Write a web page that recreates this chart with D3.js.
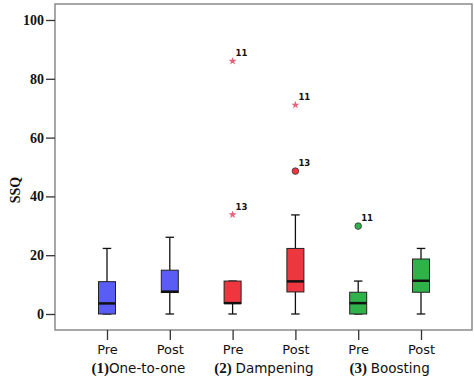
<!DOCTYPE html>
<html><head><meta charset="utf-8">
<script src="https://cdn.jsdelivr.net/npm/d3@7"></script>
<style>body{margin:0;background:#fff}svg{display:block}</style>
</head><body>
<svg id="c" width="474" height="379"></svg>
<script>
const conditions = ["Pre","Post","Pre","Post","Pre","Post"];
const groups = ["(1)One-to-one","(2) Dampening","(3) Boosting"];
const groupOf = [0,0,1,1,2,2];
const whiskerLow  = [0, 0, 0, 0, 0, 0];
const q1          = [0, 7.3, 3.6, 7.5, 0, 7.4];
const median      = [3.6, 7.6, 3.7, 11.1, 3.7, 11.3];
const q3          = [11.0, 14.9, 11.2, 22.3, 7.4, 18.7];
const whiskerHigh = [22.3, 26.1, 11.2, 33.7, 11.2, 22.3];
const outliers = [
  {box:2, value:86, type:"star", label:"11"},
  {box:2, value:33.8, type:"star", label:"13"},
  {box:3, value:71.1, type:"star", label:"11"},
  {box:3, value:48.6, type:"circle", label:"13"},
  {box:4, value:29.9, type:"circle", label:"11"}
];
const yTicks = [0,20,40,60,80,100];
const groupColors = ["#5a5cf6","#ee363e","#2fb24a"];
const starColor = "#e8607a";

const svg = d3.select("#c");
const L=55, R=472, T=4, B=330;
const x = d3.scalePoint().domain(d3.range(6)).range([107,421]);
const xc = i => x(i);
const bw = 17;
const y = d3.scaleLinear().domain([0,100]).range([314,20]);

// frame
svg.append("rect").attr("x",L).attr("y",T).attr("width",R-L).attr("height",B-T)
  .attr("fill","none").attr("stroke","#8a8a8a").attr("stroke-width",1.5);

// y axis
const ya = svg.append("g").attr("transform",`translate(${L},0)`)
  .call(d3.axisLeft(y).tickValues(yTicks).tickSize(9).tickPadding(2));
ya.select(".domain").remove();
ya.selectAll("line").attr("stroke","#333").attr("stroke-width",1.3);
ya.selectAll("text").attr("font-family","Liberation Serif").attr("font-weight","bold")
  .attr("font-size",14).attr("fill","#111");

svg.append("text").attr("transform","translate(20,190) rotate(-90)")
  .attr("text-anchor","middle").attr("font-family","Liberation Serif").attr("font-weight","bold")
  .attr("font-size",14).attr("fill","#111").text("SSQ");

// x axis
const xa = svg.append("g").attr("transform",`translate(0,${B})`)
  .call(d3.axisBottom(x).tickSize(10).tickPadding(5).tickFormat(i=>conditions[i]));
xa.select(".domain").remove();
xa.selectAll("line").attr("stroke","#333").attr("stroke-width",1.3);
xa.selectAll("text").attr("font-family","DejaVu Sans").attr("font-size",13).attr("fill","#111");

// group labels
const gl = svg.append("g");
groups.forEach((g,k)=>{
  const cx = (xc(2*k)+xc(2*k+1))/2;
  const m = g.match(/^(\(\d\))(\s?)(.*)$/);
  const t = gl.append("text").attr("x",cx).attr("y",373).attr("text-anchor","middle")
    .attr("font-size",13.5).attr("fill","#111");
  t.append("tspan").attr("font-family","Liberation Serif").attr("font-weight","bold").attr("font-size",15).text(m[1]+m[2]);
  t.append("tspan").attr("font-family","DejaVu Sans").text(m[3]);
});

// boxes
const bx = svg.append("g");
d3.range(6).forEach(i=>{
  const c = groupColors[groupOf[i]];
  const g = bx.append("g");
  g.append("line").attr("x1",xc(i)).attr("x2",xc(i)).attr("y1",y(whiskerHigh[i])).attr("y2",y(q3[i]))
    .attr("stroke","#111").attr("stroke-width",1.3);
  g.append("line").attr("x1",xc(i)).attr("x2",xc(i)).attr("y1",y(q1[i])).attr("y2",y(whiskerLow[i]))
    .attr("stroke","#111").attr("stroke-width",1.3);
  [whiskerHigh[i],whiskerLow[i]].forEach(v=>{
    g.append("line").attr("x1",xc(i)-bw/4).attr("x2",xc(i)+bw/4).attr("y1",y(v)).attr("y2",y(v))
      .attr("stroke","#111").attr("stroke-width",1.3);
  });
  g.append("rect").attr("x",xc(i)-bw/2).attr("y",y(q3[i])).attr("width",bw)
    .attr("height",Math.max(0.5,y(q1[i])-y(q3[i]))).attr("fill",c).attr("stroke","#222").attr("stroke-width",1);
  g.append("line").attr("x1",xc(i)-bw/2).attr("x2",xc(i)+bw/2).attr("y1",y(median[i])).attr("y2",y(median[i]))
    .attr("stroke","#111").attr("stroke-width",2.5);
});

// outliers
const og = svg.append("g");
outliers.forEach(o=>{
  const cx = xc(o.box), cy = y(o.value);
  const col = groupColors[groupOf[o.box]];
  if(o.type==="star"){
    og.append("path").attr("d",d3.symbol(d3.symbolStar,20)()).attr("transform",`translate(${cx},${cy})`)
      .attr("fill",starColor);
  } else {
    og.append("circle").attr("cx",cx).attr("cy",cy).attr("r",3.3).attr("fill",col)
      .attr("stroke","#333").attr("stroke-width",0.8);
  }
  og.append("text").attr("x",cx+3).attr("y",cy-5).attr("font-family","DejaVu Sans").attr("font-weight","bold")
    .attr("font-size",8.5).attr("fill","#111").text(o.label);
});
</script>
</body></html>
